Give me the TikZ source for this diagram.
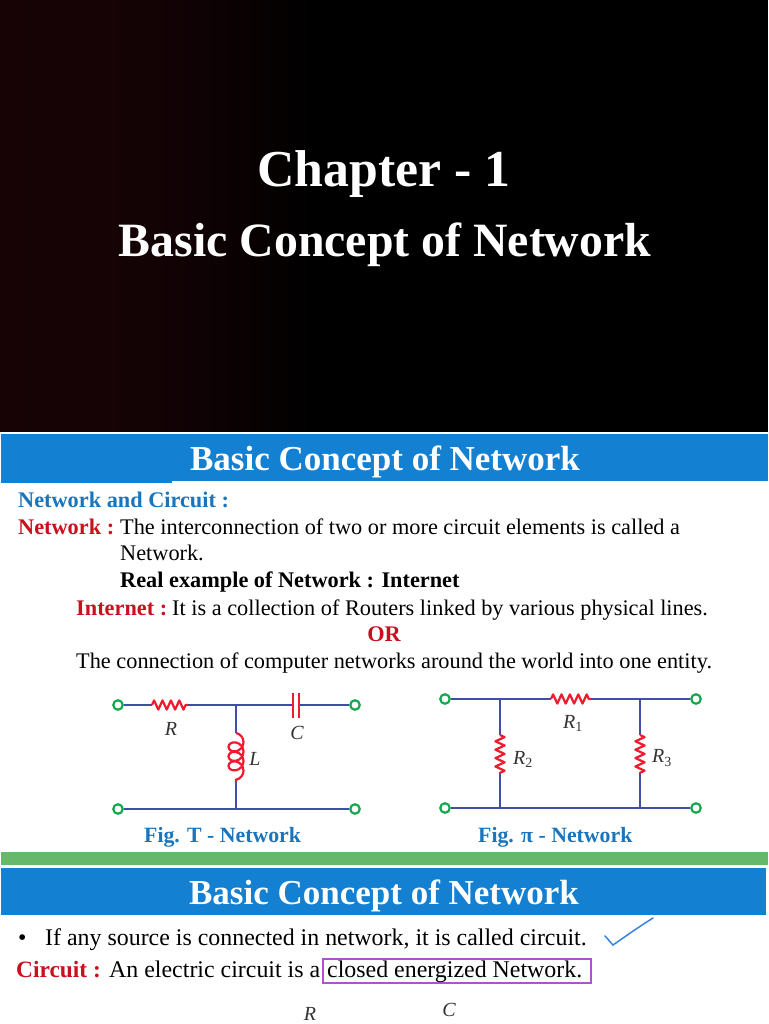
\documentclass[tikz,border=0pt]{standalone}
\usepackage{fontspec}
\setmainfont{Liberation Serif}
\usetikzlibrary{decorations.pathmorphing,decorations.pathreplacing}
\definecolor{slideblue}{HTML}{1380D2}
\definecolor{headblue}{HTML}{1A75BC}
\definecolor{wireblue}{HTML}{3F4FA5}
\definecolor{partred}{HTML}{EE1C2E}
\definecolor{termgreen}{HTML}{16A650}
\definecolor{wordred}{HTML}{C8101E}
\definecolor{bandgreen}{HTML}{66B96B}
\definecolor{darkred}{HTML}{170306}
\definecolor{boxviolet}{HTML}{B052CF}
\definecolor{tickblue}{HTML}{3B82E0}
\tikzset{
  terminal/.style={draw=termgreen,fill=white,line width=2.2pt,shape=circle,inner sep=0pt,minimum size=9.5pt},
  wire/.style={draw=wireblue,line width=2pt},
  part/.style={draw=partred,line width=2.2pt},
  resistor/.style={part,line join=round,decorate,decoration={zigzag,amplitude=4.6pt,segment length=8.4pt}},
  inductor/.style={part,decorate,decoration={coil,amplitude=7.5pt,segment length=9.5pt,aspect=0.9}},
  body/.style={anchor=base west,inner sep=0pt,font=\fontsize{22.3}{24}\selectfont},
  bold/.style={body,font=\fontsize{22.3}{24}\selectfont\bfseries},
  bodyb/.style={anchor=base west,inner sep=0pt,font=\fontsize{23.9}{26}\selectfont},
  symbol/.style={inner sep=0pt,text=black!80,font=\fontsize{20}{22}\selectfont\itshape},
  banner/.style={anchor=base,inner sep=0pt,text=white,font=\fontsize{35}{38}\selectfont\bfseries},
  figlabel/.style={anchor=base west,inner sep=0pt,text=headblue,font=\fontsize{21.8}{24}\selectfont\bfseries}
}
\begin{document}
\begin{tikzpicture}[x=1pt,y=-1pt]
\useasboundingbox (0,0) rectangle (768,1024);
\fill[white] (0,0) rectangle (768,1024);
% title slide
\fill[left color=darkred,right color=black,middle color=darkred!85!black] (0,0) rectangle (320,432);
\fill[black] (320,0) rectangle (768,432);
\fill[white] (0,432) rectangle (768,434);
\node [anchor=base,inner sep=0pt,text=white,font=\fontsize{51.8}{56}\selectfont\bfseries] (chapter) at (384,187) {Chapter - 1};
\node [anchor=base,inner sep=0pt,text=white,font=\fontsize{47.8}{50}\selectfont\bfseries] (title) at (385,256) {Basic Concept of Network};
% second slide
\fill[slideblue] (1,434) rectangle (768,481);
\fill[slideblue] (1,481) rectangle (172,483);
\node [banner] (head1) at (385,470) {Basic Concept of Network};
\node [bold,text=headblue] (nc) at (18,507) {Network and Circuit :};
\node [bold,text=wordred] (net) at (18,534) {Network :};
\node [body] (def1) at (120,534) {The interconnection of two or more circuit elements is called a};
\node [body] (def2) at (120,560) {Network.};
\node [bold] (real) at (120,587) {Real example of Network : Internet};
\node [bold,text=wordred] (inet) at (76,615) {Internet :};
\node [body] (def3) at (172,615) {It is a collection of Routers linked by various physical lines.};
\node [anchor=base,inner sep=0pt,text=wordred,font=\fontsize{22.3}{24}\selectfont\bfseries] (or) at (384,641) {OR};
\node [body] (def4) at (76,668) {The connection of computer networks around the world into one entity.};
% T network
\node [terminal] (t1) at (118,705) {};
\node [terminal] (t2) at (355,705) {};
\node [terminal] (t3) at (118,809) {};
\node [terminal] (t4) at (355,809) {};
\coordinate (ja) at (236,705);
\coordinate (jb) at (236,809);
\coordinate (ra) at (152,705);
\coordinate (rb) at (188,705);
\coordinate (ca) at (293,705);
\coordinate (cb) at (299,705);
\coordinate (la) at (236,733);
\coordinate (lb) at (236,782);
\draw [wire] (t1) -- (ra)
(rb) -- (ja)
(ja) -- (ca)
(cb) -- (t2)
(ja) -- (la)
(lb) -- (jb)
(t3) -- (t4);
\draw [resistor] (ra) -- (rb);
\draw [inductor] (la) -- (lb);
\draw [part] (293,693) -- (293,718)
(299,693) -- (299,718);
\node [symbol] (symr) at (171,729) {R};
\node [symbol] (symc) at (297,733) {C};
\node [symbol] (syml) at (255,759) {L};
\node [figlabel] (figt) at (144,842) {Fig. T - Network};
% pi network
\node [terminal] (p1) at (445,699) {};
\node [terminal] (p2) at (696,699) {};
\node [terminal] (p3) at (445,808) {};
\node [terminal] (p4) at (696,808) {};
\coordinate (ka) at (500,699);
\coordinate (kb) at (640,699);
\coordinate (kc) at (500,808);
\coordinate (kd) at (640,808);
\coordinate (r1a) at (551,699);
\coordinate (r1b) at (591,699);
\coordinate (r2a) at (500,735);
\coordinate (r2b) at (500,773);
\coordinate (r3a) at (640,735);
\coordinate (r3b) at (640,773);
\draw [wire] (p1) -- (r1a)
(r1b) -- (p2)
(ka) -- (r2a)
(r2b) -- (kc)
(kb) -- (r3a)
(r3b) -- (kd)
(p3) -- (p4);
\draw [resistor] (r1a) -- (r1b);
\draw [resistor] (r2a) -- (r2b);
\draw [resistor] (r3a) -- (r3b);
\node [symbol] (symra) at (573,723) {R\textsubscript{\upshape 1}};
\node [symbol] (symrb) at (523,759) {R\textsubscript{\upshape 2}};
\node [symbol] (symrc) at (662,758) {R\textsubscript{\upshape 3}};
\node [figlabel] (figp) at (478,842) {Fig. π - Network};
% band between slides
\fill[bandgreen] (1,852) rectangle (768,865);
% third slide
\fill[slideblue] (1,868) rectangle (766,915);
\node [banner] (head2) at (384,904) {Basic Concept of Network};
\node [bodyb] (dot) at (18,945) {•};
\node [bodyb] (src) at (45,945) {If any source is connected in network, it is called circuit.};
\node [bodyb,font=\fontsize{23.4}{26}\selectfont\bfseries,text=wordred] (cir) at (16,977) {Circuit :};
\node [bodyb] (def5) at (109,977) {An electric circuit is a};
\node [draw=boxviolet,line width=1.4pt,minimum width=268pt,minimum height=24pt,inner sep=0pt] (box) at (457,971) {};
\node [bodyb] (def6) at (327,977) {closed energized Network.};
\draw [tickblue,line width=1.5pt,line cap=round] (605,936) .. controls (608,939) and (610,942) .. (613,945) .. controls (626,936) and (640,926) .. (653,918);
\node [symbol] (bottomr) at (310,1014) {R};
\node [symbol] (bottomc) at (449,1010) {C};
\end{tikzpicture}
\end{document}
